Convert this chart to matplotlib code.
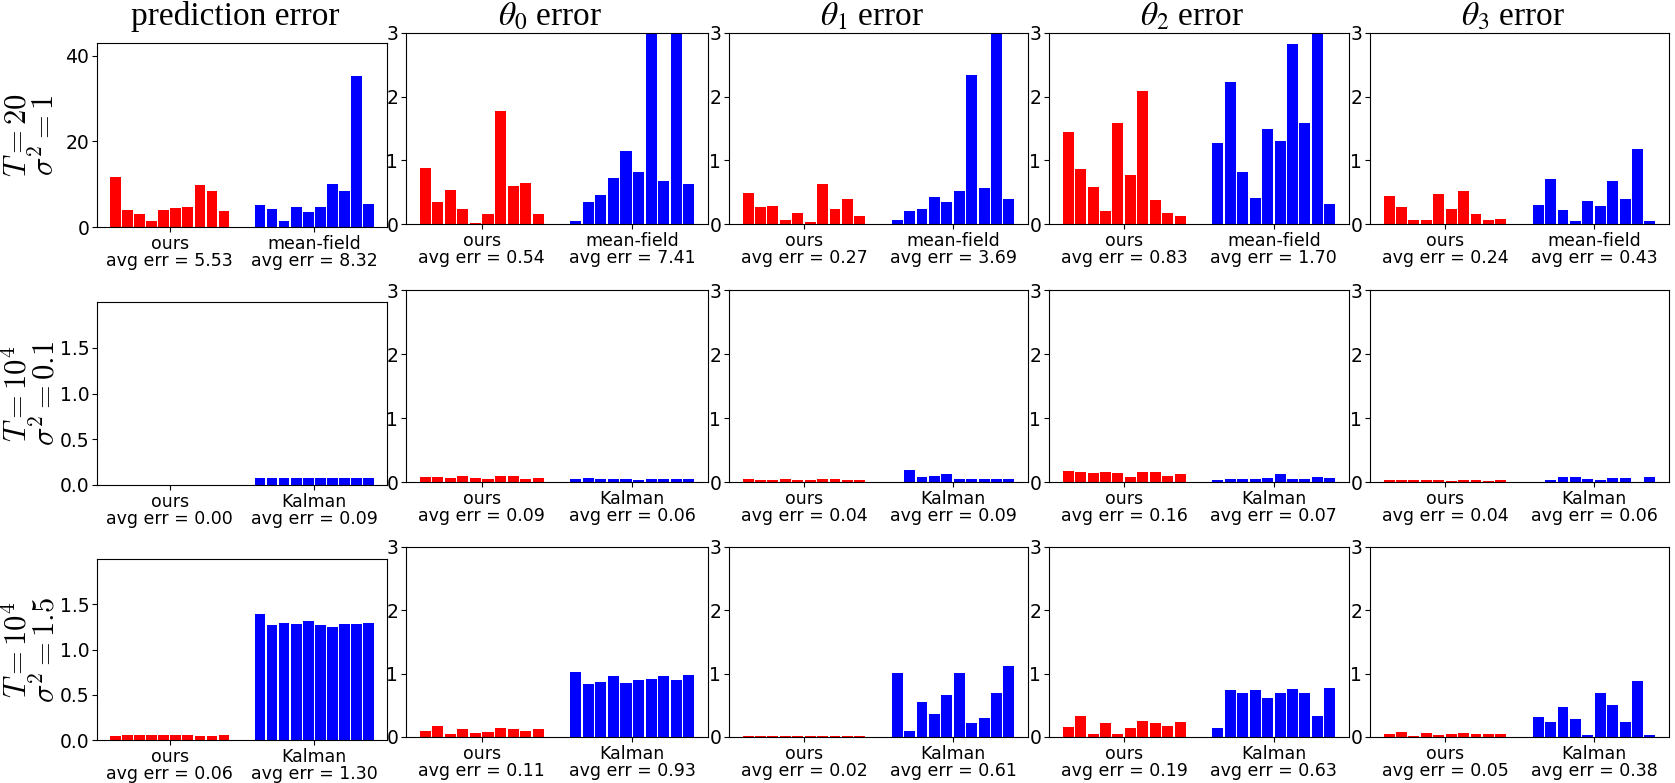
import matplotlib
matplotlib.use("Agg")
import matplotlib.pyplot as plt
import numpy as np

# --- values ---
col_titles = ["prediction error", r"$\theta_0$ error", r"$\theta_1$ error",
              r"$\theta_2$ error", r"$\theta_3$ error"]
row_labels = [r"$T=20$" "\n" r"$\sigma^2=1$",
              r"$T=10^4$" "\n" r"$\sigma^2=0.1$",
              r"$T=10^4$" "\n" r"$\sigma^2=1.5$"]
baseline_names = ["mean-field", "Kalman", "Kalman"]

# row 1: T=20, sigma^2=1  (ours vs mean-field)
ours_t20 = [
    [11.8, 4.0, 3.1, 1.3, 4.0, 4.5, 4.7, 9.8, 8.3, 3.8],
    [0.88, 0.35, 0.54, 0.24, 0.02, 0.15, 1.78, 0.60, 0.65, 0.15],
    [0.48, 0.27, 0.29, 0.06, 0.18, 0.03, 0.63, 0.24, 0.40, 0.12],
    [1.45, 0.86, 0.58, 0.21, 1.59, 0.77, 2.09, 0.37, 0.17, 0.13],
    [0.44, 0.26, 0.06, 0.07, 0.47, 0.24, 0.52, 0.15, 0.07, 0.08],
]
base_t20 = [
    [5.2, 4.3, 1.3, 4.7, 3.6, 4.7, 10.1, 8.4, 35.4, 5.4],
    [0.05, 0.35, 0.46, 0.72, 1.14, 0.82, 29.5, 0.68, 39.75, 0.63],
    [0.07, 0.21, 0.23, 0.43, 0.35, 0.52, 2.34, 0.57, 31.78, 0.40],
    [1.27, 2.23, 0.82, 0.41, 1.50, 1.30, 2.83, 1.59, 4.73, 0.32],
    [0.30, 0.70, 0.22, 0.05, 0.36, 0.28, 0.67, 0.39, 1.18, 0.05],
]
avg_ours_t20 = ["5.53", "0.54", "0.27", "0.83", "0.24"]
avg_base_t20 = ["8.32", "7.41", "3.69", "1.70", "0.43"]

# row 2: T=10^4, sigma^2=0.1  (ours vs Kalman)
ours_s01 = [
    [0.004, 0.004, 0.004, 0.004, 0.004, 0.004, 0.004, 0.004, 0.004, 0.004],
    [0.08, 0.08, 0.07, 0.09, 0.07, 0.05, 0.09, 0.09, 0.05, 0.07],
    [0.04, 0.035, 0.035, 0.04, 0.035, 0.025, 0.04, 0.04, 0.03, 0.035],
    [0.17, 0.16, 0.14, 0.16, 0.14, 0.08, 0.16, 0.16, 0.09, 0.125],
    [0.035, 0.03, 0.03, 0.035, 0.03, 0.015, 0.035, 0.035, 0.02, 0.03],
]
base_s01 = [
    [0.075, 0.075, 0.075, 0.075, 0.075, 0.075, 0.075, 0.075, 0.075, 0.075],
    [0.05, 0.07, 0.04, 0.05, 0.045, 0.03, 0.05, 0.05, 0.04, 0.04],
    [0.005, 0.19, 0.08, 0.09, 0.13, 0.05, 0.045, 0.05, 0.05, 0.045],
    [0.035, 0.045, 0.05, 0.045, 0.065, 0.13, 0.04, 0.045, 0.08, 0.065],
    [0.0, 0.035, 0.08, 0.08, 0.05, 0.025, 0.07, 0.07, 0.0, 0.08],
]
avg_ours_s01 = ["0.00", "0.09", "0.04", "0.16", "0.04"]
avg_base_s01 = ["0.09", "0.06", "0.09", "0.07", "0.06"]

# row 3: T=10^4, sigma^2=1.5  (ours vs Kalman)
ours_s15 = [
    [0.04, 0.05, 0.05, 0.05, 0.06, 0.05, 0.06, 0.04, 0.04, 0.05],
    [0.09, 0.17, 0.05, 0.13, 0.06, 0.08, 0.14, 0.13, 0.09, 0.13],
    [0.01, 0.02, 0.02, 0.01, 0.02, 0.01, 0.01, 0.01, 0.01, 0.01],
    [0.16, 0.33, 0.05, 0.22, 0.05, 0.14, 0.25, 0.22, 0.17, 0.23],
    [0.05, 0.08, 0.02, 0.06, 0.03, 0.05, 0.06, 0.05, 0.05, 0.05],
]
base_s15 = [
    [1.39, 1.27, 1.29, 1.28, 1.31, 1.27, 1.25, 1.28, 1.28, 1.29],
    [1.03, 0.83, 0.87, 0.97, 0.86, 0.90, 0.92, 0.97, 0.90, 0.98],
    [1.01, 0.09, 0.55, 0.37, 0.67, 1.01, 0.22, 0.30, 0.69, 1.12],
    [0.14, 0.75, 0.70, 0.75, 0.62, 0.69, 0.76, 0.70, 0.33, 0.78],
    [0.31, 0.23, 0.47, 0.28, 0.03, 0.69, 0.51, 0.23, 0.89, 0.03],
]
avg_ours_s15 = ["0.06", "0.11", "0.02", "0.19", "0.05"]
avg_base_s15 = ["1.30", "0.93", "0.61", "0.63", "0.38"]

ours_rows = [ours_t20, ours_s01, ours_s15]
base_rows = [base_t20, base_s01, base_s15]
avg_ours_rows = [avg_ours_t20, avg_ours_s01, avg_ours_s15]
avg_base_rows = [avg_base_t20, avg_base_s01, avg_base_s15]

# --- layout (pixel boxes measured on the 1675x783 reference) ---
W, H = 1675, 783
col_x = [(97, 387), (406, 708), (729, 1028), (1049, 1349), (1370, 1669)]
row_y = [(33, 224), (290, 482), (547, 737)]        # columns 1-4
row_y0 = [(43, 227), (302, 485), (559, 740)]       # first column

fig = plt.figure(figsize=(W / 100, H / 100), dpi=100)

x_ours = np.arange(10)
x_base = np.arange(12, 22)

for r in range(3):
    for c in range(5):
        x0, x1 = col_x[c]
        top, bot = row_y0[r] if c == 0 else row_y[r]
        ax = fig.add_axes([x0 / W, 1 - bot / H, (x1 - x0) / W, (bot - top) / H])
        ax.bar(x_ours, ours_rows[r][c], width=0.88, color="red")
        ax.bar(x_base, base_rows[r][c], width=0.88, color="blue")
        ax.set_xticks([4.5, 16.5])
        labels = ax.set_xticklabels(["ours\navg err = " + avg_ours_rows[r][c],
                                     baseline_names[r] + "\navg err = " + avg_base_rows[r][c]],
                                    fontsize=12.5)
        for t in labels:
            t.set_linespacing(0.95)
        if c == 0:
            if r == 0:
                ax.set_ylim(0, 43)
                ax.set_yticks([0, 20, 40])
            else:
                ax.set_ylim(0, 2.0)
                ax.set_yticks([0.0, 0.5, 1.0, 1.5])
                ax.set_yticklabels(["0.0", "0.5", "1.0", "1.5"])
        else:
            ax.set_ylim(0, 3)
            ax.set_yticks([0, 1, 2, 3])
        ax.tick_params(axis="y", labelsize=13.5, pad=2)
        ax.tick_params(axis="x", pad=2)
        if r == 0:
            fig.text((x0 + x1) / 2 / W - 0.004, 1 - 17 / H, col_titles[c], ha="center",
                     va="center", fontsize=24, family="Liberation Serif",
                     math_fontfamily="stix")
    top, bot = row_y0[r]
    fig.text(31 / W, 1 - (top + bot) / 2 / H, row_labels[r], rotation=90, ha="center",
             va="center", multialignment="center", fontsize=22, math_fontfamily="cm",
             linespacing=0.88)

fig.savefig("out.png", dpi=100)
